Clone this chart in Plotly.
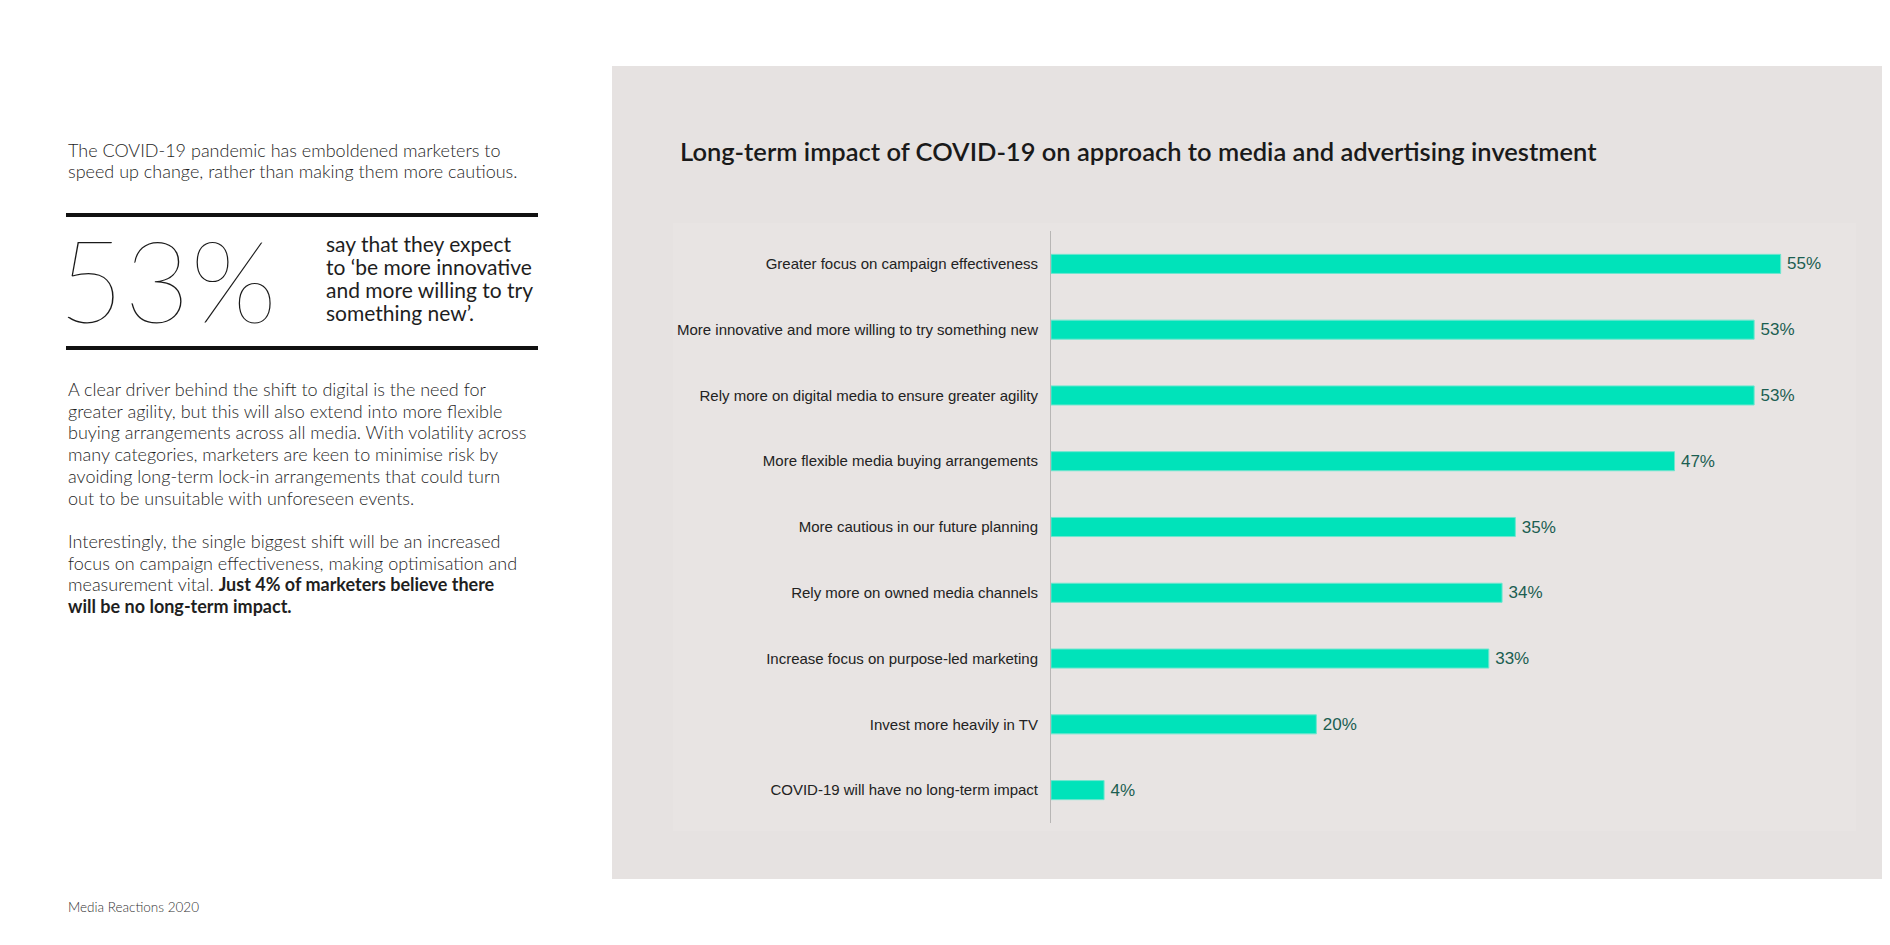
import plotly.graph_objects as go

# The page body has an 8px default margin, so the figure is drawn 8px smaller
# and all page positions are measured from the window's top-left corner.
PAGE_OFF = 8
W, H = 1890 - PAGE_OFF, 945 - PAGE_OFF

categories = [
    "Greater focus on campaign effectiveness",
    "More innovative and more willing to try something new",
    "Rely more on digital media to ensure greater agility",
    "More flexible media buying arrangements",
    "More cautious in our future planning",
    "Rely more on owned media channels",
    "Increase focus on purpose-led marketing",
    "Invest more heavily in TV",
    "COVID-19 will have no long-term impact",
]
values = [55, 53, 53, 47, 35, 34, 33, 20, 4]

title_text = "Long-term impact of COVID-19 on approach to media and advertising investment"
intro_lines = [
    "The COVID-19 pandemic has emboldened marketers to",
    "speed up change, rather than making them more cautious.",
]
big_stat = "53%"
stat_lines = [
    "say that they expect",
    "to \u2018be more innovative",
    "and more willing to try",
    "something new\u2019.",
]
para2_lines = [
    "A clear driver behind the shift to digital is the need for",
    "greater agility, but this will also extend into more flexible",
    "buying arrangements across all media. With volatility across",
    "many categories, marketers are keen to minimise risk by",
    "avoiding long-term lock-in arrangements that could turn",
    "out to be unsuitable with unforeseen events.",
]
para3_lines = [
    "Interestingly, the single biggest shift will be an increased",
    "focus on campaign effectiveness, making optimisation and",
    "measurement vital. <b>Just 4% of marketers believe there</b>",
    "<b>will be no long-term impact.</b>",
]
footer = "Media Reactions 2020"


def px(x):
    return (x - PAGE_OFF) / W


def py(y):
    return 1 - (y - PAGE_OFF) / H


fig = go.Figure()
fig.add_trace(go.Bar(
    x=values, y=categories, orientation="h",
    marker=dict(color="#00e3ba", line=dict(color="#6fe6cf", width=1)),
    texttemplate="\u2009%{x}%", textposition="outside",
    textfont=dict(family="Liberation Sans, Arial", size=17, color="#1b5e51"),
    cliponaxis=False, hoverinfo="skip",
))

fig.update_layout(
    width=W, height=H,
    margin=dict(l=0, r=0, t=0, b=0),
    paper_bgcolor="white", plot_bgcolor="rgba(0,0,0,0)",
    showlegend=False, bargap=0.71,
    xaxis=dict(domain=[px(1051), px(1847)], range=[0, 60], visible=False, fixedrange=True),
    yaxis=dict(domain=[py(823), py(231)], autorange="reversed",
               showline=True, linecolor="#b8b6b5", linewidth=1,
               showgrid=False, zeroline=False, ticks="",
               ticklabelstandoff=9,
               tickfont=dict(family="Liberation Sans, Arial", size=15, color="#222222")),
)

shapes = [
    dict(type="rect", xref="paper", yref="paper", x0=px(612), x1=1, y0=py(879), y1=py(66),
         fillcolor="#e6e2e1", line=dict(width=0), layer="below"),
    dict(type="rect", xref="paper", yref="paper", x0=px(673), x1=px(1856), y0=py(831), y1=py(223),
         fillcolor="#e8e4e3", line=dict(width=0), layer="below"),
    dict(type="line", xref="paper", yref="paper", x0=px(66), x1=px(538), y0=py(215), y1=py(215),
         line=dict(color="#111111", width=4)),
    dict(type="line", xref="paper", yref="paper", x0=px(66), x1=px(538), y0=py(348), y1=py(348),
         line=dict(color="#111111", width=4)),
]
fig.update_layout(shapes=shapes)

left_font = "Lato, Noto Sans, sans-serif"
body_font = dict(family=left_font, size=18, color="#1f1f1f", weight=300)

ann = [
    dict(text=title_text, x=px(678), y=py(151), xanchor="left", yanchor="middle",
         font=dict(family=left_font, size=25.5, color="#1a1a1a", weight=600)),
    dict(text=big_stat, x=px(56), y=py(278), xanchor="left", yanchor="middle",
         font=dict(family=left_font, size=114, color="#1a1a1a", weight=100)),
    dict(text=footer, x=px(66), y=py(907), xanchor="left", yanchor="middle",
         font=dict(family=left_font, size=13.5, color="#333333", weight=300)),
]


def add_lines(lines, x, y0, step, font):
    for i, line in enumerate(lines):
        ann.append(dict(text=line, x=px(x), y=py(y0 + i * step), xanchor="left",
                        yanchor="middle", align="left", font=font))


add_lines(intro_lines, 66, 149.5, 21.6, body_font)
add_lines(stat_lines, 324, 243, 23.3,
          dict(family=left_font, size=21, color="#1e1e1e", weight=400))
add_lines(para2_lines, 66, 389, 21.7, body_font)
add_lines(para3_lines, 66, 541, 21.7, body_font)

for a in ann:
    a.update(xref="paper", yref="paper", showarrow=False)
fig.update_layout(annotations=ann)

fig.write_html("out.html")
